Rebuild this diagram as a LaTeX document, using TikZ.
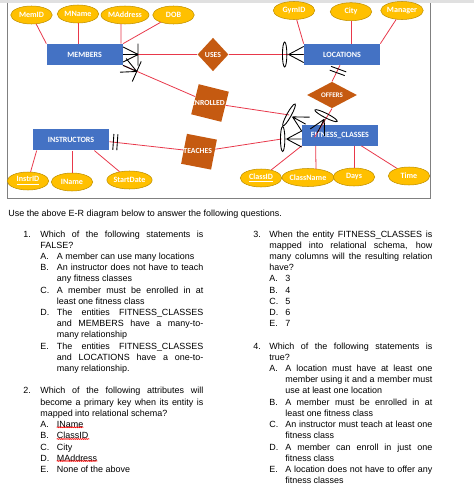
\documentclass[tikz,border=0pt]{standalone}
\usepackage{fontspec}
\setmainfont{Liberation Sans}
\newfontfamily\calibri{Carlito}
\usepackage{tikz}
\usetikzlibrary{calc, positioning, shapes.geometric, decorations.pathmorphing}

\definecolor{entblue}{RGB}{68,114,196}
\definecolor{attgold}{RGB}{255,192,0}
\definecolor{attedge}{RGB}{191,144,0}
\definecolor{relorange}{RGB}{197,90,17}
\definecolor{linkred}{RGB}{232,56,74}
\definecolor{framegray}{RGB}{128,128,128}

\newlength\numind
\newlength\optind
\newcommand{\qnum}[2]{\par\noindent\hangindent=\numind\hangafter=1\makebox[\numind][l]{#1}#2\par}
\newcommand{\qopt}[2]{\par{\leftskip=\numind\noindent\hangindent=\optind\hangafter=1\makebox[\optind][l]{#1}#2\par}}

\tikzset{
  entity/.style={fill=entblue, minimum width=1.52cm, minimum height=0.42cm, inner sep=0pt,
    text=white, font=\calibri\bfseries\fontsize{4.55}{5}\selectfont},
  attr/.style={ellipse, fill=attgold, draw=attedge, line width=0.3pt, minimum width=0.83cm,
    minimum height=0.36cm, inner sep=0pt, text=white, font=\calibri\bfseries\fontsize{4.6}{5}\selectfont},
  relship/.style={fill=relorange, inner sep=0pt, text=white, font=\calibri\bfseries\fontsize{4.4}{5}\selectfont},
  reltext/.style={inner sep=0pt, text=white, font=\calibri\bfseries\fontsize{4.4}{5}\selectfont},
  link/.style={draw=linkred, line width=0.45pt},
  crow/.style={draw=black, line width=0.5pt},
  qtext/.style={inner sep=0pt, font=\fontsize{5.1}{6.38}\selectfont},
  qcol/.style={qtext, align=justify, anchor=base west},
  zeromany/.pic={
    \draw [crow] (15,0) -- (0,8) (15,0) -- (0,0) (15,0) -- (0,-8);
    \draw [crow] (19,0) ellipse [x radius=2.2, y radius=12.5];
  },
  onemany/.pic={
    \draw [crow] (15,0) -- (0,7.5) (15,0) -- (0,0) (15,0) -- (0,-7.5) (15,11) -- (15,-11);
  },
  oneone/.pic={
    \draw [crow] (4,8) -- (4,-8) (8,8) -- (8,-8);
  },
  squiggle/.style={draw=red, line width=0.35pt, decorate,
    decoration={snake, amplitude=0.25pt, segment length=1.1pt}}
}

\begin{document}
\begin{tikzpicture}[x=0.2mm, y=0.2mm]
  \useasboundingbox (0,0) rectangle (474,-494);
  \fill [white] (0,0) rectangle (474,-494);
  \fill [black!12] (0,0) rectangle (474,-2.5);
  \draw [framegray, line width=0.6pt] (7.3,-2.5) -- (7.3,-198.5) -- (430.5,-198.5) -- (430.5,-2.5);

  \node (members) at (84.7,-54.5) [entity] {MEMBERS};
  \node (locations) at (342,-54.5) [entity] {LOCATIONS};
  \node (instructors) at (71,-139.7) [entity] {INSTRUCTORS};
  \node (fitness) at (340,-135) [entity] {FITNESS\_CLASSES};

  \node (memid) at (31.5,-15) [attr] {MemID};
  \node (mname) at (78,-14) [attr] {MName};
  \node (maddress) at (125,-15) [attr] {MAddress};
  \node (dob) at (173.5,-15) [attr] {DOB};
  \node (gymid) at (294,-10.5) [attr] {GymID};
  \node (city) at (351,-11.7) [attr] {City};
  \node (manager) at (402,-10.5) [attr] {Manager};
  \node (instrid) at (28,-181) [attr] {\underline{InstrID}};
  \node (iname) at (72,-182) [attr] {IName};
  \node (startdate) at (129.5,-180) [attr] {StartDate};
  \node (classid) at (261,-178) [attr] {\underline{ClassID}};
  \node (classname) at (308,-177.5) [attr] {ClassName};
  \node (days) at (354,-177) [attr] {Days};
  \node (time) at (409,-176) [attr] {Time};

  \node (uses) at (213,-54.5) [relship, diamond, minimum width=0.62cm, minimum height=0.67cm] {USES};
  \node (offers) at (332,-95) [relship, diamond, minimum width=1.0cm, minimum height=0.46cm,
    font=\calibri\bfseries\fontsize{4}{5}\selectfont] {OFFERS};
  \node (enrolled) at (210,-103) [relship, rotate=-14, minimum size=0.62cm] {};
  \node (teaches) at (199,-151.7) [relship, rotate=-11, minimum size=0.61cm] {};
  \node (enrolledtxt) at (208,-102.7) [reltext] {ENROLLED};
  \node (teachestxt) at (197.7,-150.7) [reltext] {TEACHES};

  \draw [link] (memid) -- (members.north west);
  \draw [link] (mname) -- (mname |- members.north);
  \draw [link] (maddress.south) ++(-4,0.2) -- ($(members.north east)+(-2,0)$);
  \draw [link] (dob) -- (members.north east);
  \draw [link] (gymid) -- (locations.north west);
  \draw [link] (city) -- (city |- locations.north);
  \draw [link] (manager) -- (locations.north east);
  \draw [link] (instrid) -- ($(instructors.south west)+(4,0)$);
  \draw [link] (iname) -- (iname |- instructors.south);
  \draw [link] (startdate) -- ($(instructors.south east)+(-15,0)$);
  \draw [link] (classid) -- (fitness.south west);
  \draw [link] (classname.north) ++(8,-0.7) -- ($(fitness.south west)+(14,0)$);
  \draw [link] (days) -- (days |- fitness.south);
  \draw [link] (time) -- ($(fitness.south east)+(-17,0)$);

  \coordinate (fcA) at ($(fitness.north west)+(4,0)$);
  \coordinate (enrJ) at ($(fcA)+(151:19)$);
  \coordinate (fcB) at ($(fitness.west)+(0,-4)$);
  \coordinate (teachJ) at ($(fcB)+(180:20)$);
  \coordinate (offEnd) at ($(fitness.north west)+(13,-13)$);
  \coordinate (fcC) at ($(offers.south)!0.84!(offEnd)$);
  \coordinate (instrR) at ($(instructors.east)+(0,-2)$);
  \coordinate (locB) at ($(locations.south)+(-2,0)$);

  \draw [link] (members.east) -- (uses.west);
  \draw [link] (uses.east) -- (locations.west);
  \draw [link] (members.south east) -- (enrolled);
  \draw [link] (enrolled) -- (enrJ);
  \draw [link] (instrR) -- (teaches);
  \draw [link] (teaches) -- (teachJ);
  \draw [link] (locB) -- (offers.north);
  \draw [link] (offers.south) -- (offEnd);

  \pic at (members.east) {onemany};
  \pic [rotate=-24] at (members.south east) {onemany};
  \pic [rotate=180] at (locations.west) {zeromany};
  \pic [rotate=151] at (fcA) {zeromany};
  \pic [rotate=180] at (fcB) {zeromany};
  \pic [rotate=63] at (fcC) {zeromany};
  \pic [rotate=-4] at (instrR) {oneone};
  \pic [rotate=-110] at (locB) {oneone};

  \node (intro) at (8,-216.8) [qtext, anchor=base west] {Use the above E-R diagram below to answer the following questions.};

  \node (leftcol) at (23,-225.8) [qcol, text width=3.6cm] {%
    \setlength{\numind}{0.34cm}\setlength{\optind}{0.33cm}%
    \qnum{1.}{Which of the following statements is\linebreak FALSE?}
    \qopt{A.}{A member can use many locations}
    \qopt{B.}{An instructor does not have to teach\linebreak any fitness classes}
    \qopt{C.}{A member must be enrolled in at\linebreak least one fitness class}
    \qopt{D.}{The entities FITNESS\_CLASSES\linebreak and MEMBERS have a many-to-\linebreak many relationship}
    \qopt{E.}{The entities FITNESS\_CLASSES\linebreak and LOCATIONS have a one-to-\linebreak many relationship.}
    \vspace{6.38pt}
    \qnum{2.}{Which of the following attributes will\linebreak become a primary key when its entity is\linebreak mapped into relational schema?}
    \qopt{A.}{IName}
    \qopt{B.}{ClassID}
    \qopt{C.}{City}
    \qopt{D.}{MAddress}
    \qopt{E.}{None of the above}
  };

  \node (rightcol) at (253,-225.8) [qcol, text width=3.58cm] {%
    \setlength{\numind}{0.32cm}\setlength{\optind}{0.32cm}%
    \qnum{3.}{When the entity FITNESS\_CLASSES is\linebreak mapped into relational schema, how\linebreak many columns will the resulting relation\linebreak have?}
    \qopt{A.}{3}
    \qopt{B.}{4}
    \qopt{C.}{5}
    \qopt{D.}{6}
    \qopt{E.}{7}
    \vspace{6.38pt}
    \qnum{4.}{Which of the following statements is\linebreak true?}
    \qopt{A.}{A location must have at least one\linebreak member using it and a member must\linebreak use at least one location}
    \qopt{B.}{A member must be enrolled in at\linebreak least one fitness class}
    \qopt{C.}{An instructor must teach at least one\linebreak fitness class}
    \qopt{D.}{A member can enroll in just one\linebreak fitness class}
    \qopt{E.}{A location does not have to offer any\linebreak fitness classes}
  };

  \draw [squiggle] (56.7,-427.3) -- (83.3,-427.3);
  \draw [squiggle] (56.7,-439) -- (89.3,-439);
  \draw [squiggle] (56.7,-461) -- (97.3,-461);
\end{tikzpicture}
\end{document}
